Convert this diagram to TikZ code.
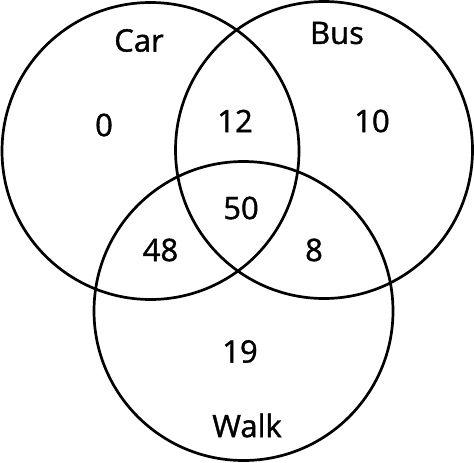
\documentclass[tikz,border=0pt]{standalone}
\usepackage{fontspec}
\setmainfont{Open Sans}[FakeBold=1.2]
\begin{document}
\begin{tikzpicture}[x=1pt,y=-1pt,
  ring/.style={draw=black,line width=2.7pt},
  lbl/.style={inner sep=0pt,font=\fontsize{31}{34}\selectfont}]
\useasboundingbox (0,0) rectangle (474,463);
\fill[white] (0,0) rectangle (474,463);
\draw[ring] (150.5,151) circle[radius=148.5] coordinate (car);
\draw[ring] (324,150) circle[radius=148.5] coordinate (bus);
\draw[ring] (243.5,311) circle[radius=149.5] coordinate (walk);
\node[lbl] (tcar) at (139,40.5) {Car};
\node[lbl] (tbus) at (337,33) {Bus};
\node[lbl] (twalk) at (247,425.5) {Walk};
\node[lbl] (n0) at (104,125) {0};
\node[lbl] (n12) at (235,121) {12};
\node[lbl] (n10) at (372,121) {10};
\node[lbl] (n50) at (241,208) {50};
\node[lbl] (n48) at (160.5,250) {48};
\node[lbl] (n8) at (314,250) {8};
\node[lbl] (n19) at (240,351.5) {19};
\end{tikzpicture}
\end{document}
